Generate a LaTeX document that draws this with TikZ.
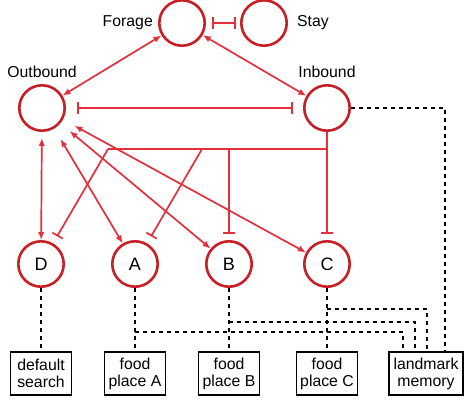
\documentclass[tikz,border=0pt]{standalone}
\usepackage{fontspec}
\setmainfont{Liberation Sans}
\usetikzlibrary{arrows.meta,calc,positioning}

\definecolor{unitred}{RGB}{200,30,38}
\definecolor{linkred}{RGB}{228,48,60}
\newcommand{\lblfont}{\fontsize{15.8}{17}\selectfont}

\tikzset{
  unit/.style={circle,draw=unitred,line width=2.6pt,minimum size=45.4pt,inner sep=0pt,font=\fontsize{18}{20}\selectfont},
  lbl/.style={inner sep=0pt,font=\lblfont},
  place/.style={draw,line width=1.8pt,align=center,minimum width=61pt,minimum height=43pt,inner sep=0pt,font=\lblfont},
  act/.style={linkred,line width=1.7pt,{Latex[length=8pt,width=6.5pt]}-{Latex[length=8pt,width=6.5pt]}},
  inh/.style={linkred,line width=1.7pt,-{Bar[width=12pt,line width=1.7pt]}},
  mutinh/.style={linkred,line width=1.7pt,{Bar[width=12pt,line width=1.7pt]}-{Bar[width=12pt,line width=1.7pt]}},
  link/.style={line width=2pt,dash pattern=on 4pt off 4pt},
}

\begin{document}
\begin{tikzpicture}[x=1pt,y=-1pt]
  \useasboundingbox (0,0) rectangle (474,402);

  % units
  \node[unit] (For) at (182,23)  {};
  \node[unit] (St)  at (264,23)  {};
  \node[unit] (Out) at (42,108)  {};
  \node[unit] (In)  at (327,108) {};
  \node[unit] (D)   at (41,264)  {D};
  \node[unit] (A)   at (135,264) {A};
  \node[unit] (B)   at (229,264) {B};
  \node[unit] (C)   at (327,264) {C};

  \node[lbl] [left=5pt of For]  {Forage};
  \node[lbl] [right=9pt of St]  {Stay};
  \node[lbl] [above=6pt of Out] {Outbound};
  \node[lbl] [above=6pt of In]  {Inbound};

  % inputs
  \node[place] (DS) at (41,373.5)  {default\\search};
  \node[place] (FA) at (135,373.5) {food\\place A};
  \node[place] (FB) at (229,373.5) {food\\place B};
  \node[place] (FC) at (327,373.5) {food\\place C};
  \node[place,minimum width=74pt] (LM) at (426,373.5) {landmark\\memory};

  \coordinate (bus) at (108,149);
  \coordinate (jA)  at (202,149);

  \path
(Out) edge [act] (For)
(In)  edge [act] (For)
(For) edge [mutinh,shorten <=6pt,shorten >=4pt] (St)
(Out) edge [mutinh,shorten <=11pt,shorten >=10pt] (In)
(Out) edge [act,shorten <=6pt] (D)
(Out) edge [act,shorten <=12pt] (A)
(Out) edge [act,shorten <=12pt] (B)
(Out) edge [act,shorten <=13pt] (C)

(In)  edge [inh,shorten >=6pt] (C)
(In |- bus) edge [linkred,line width=1.7pt] (bus)
(bus) edge [inh,shorten >=8pt] (D)
(jA)  edge [inh,shorten >=8pt] (A)
(B |- bus) edge [inh,shorten >=6pt] (B)
;

  % memory links
  \draw[link] (D) -- (DS);
  \draw[link] (A) -- (FA);
  \draw[link] (B) -- (FB);
  \draw[link] (C) -- (FC);
  \draw[link] (A |- 0,332) -| ([xshift=-23pt]LM.north);
  \draw[link] (B |- 0,322) -| ([xshift=-11pt]LM.north);
  \draw[link] (C |- 0,309) -| ([xshift=1pt]LM.north);
  \draw[link] (In) -| ([xshift=19pt]LM.north);
\end{tikzpicture}
\end{document}
